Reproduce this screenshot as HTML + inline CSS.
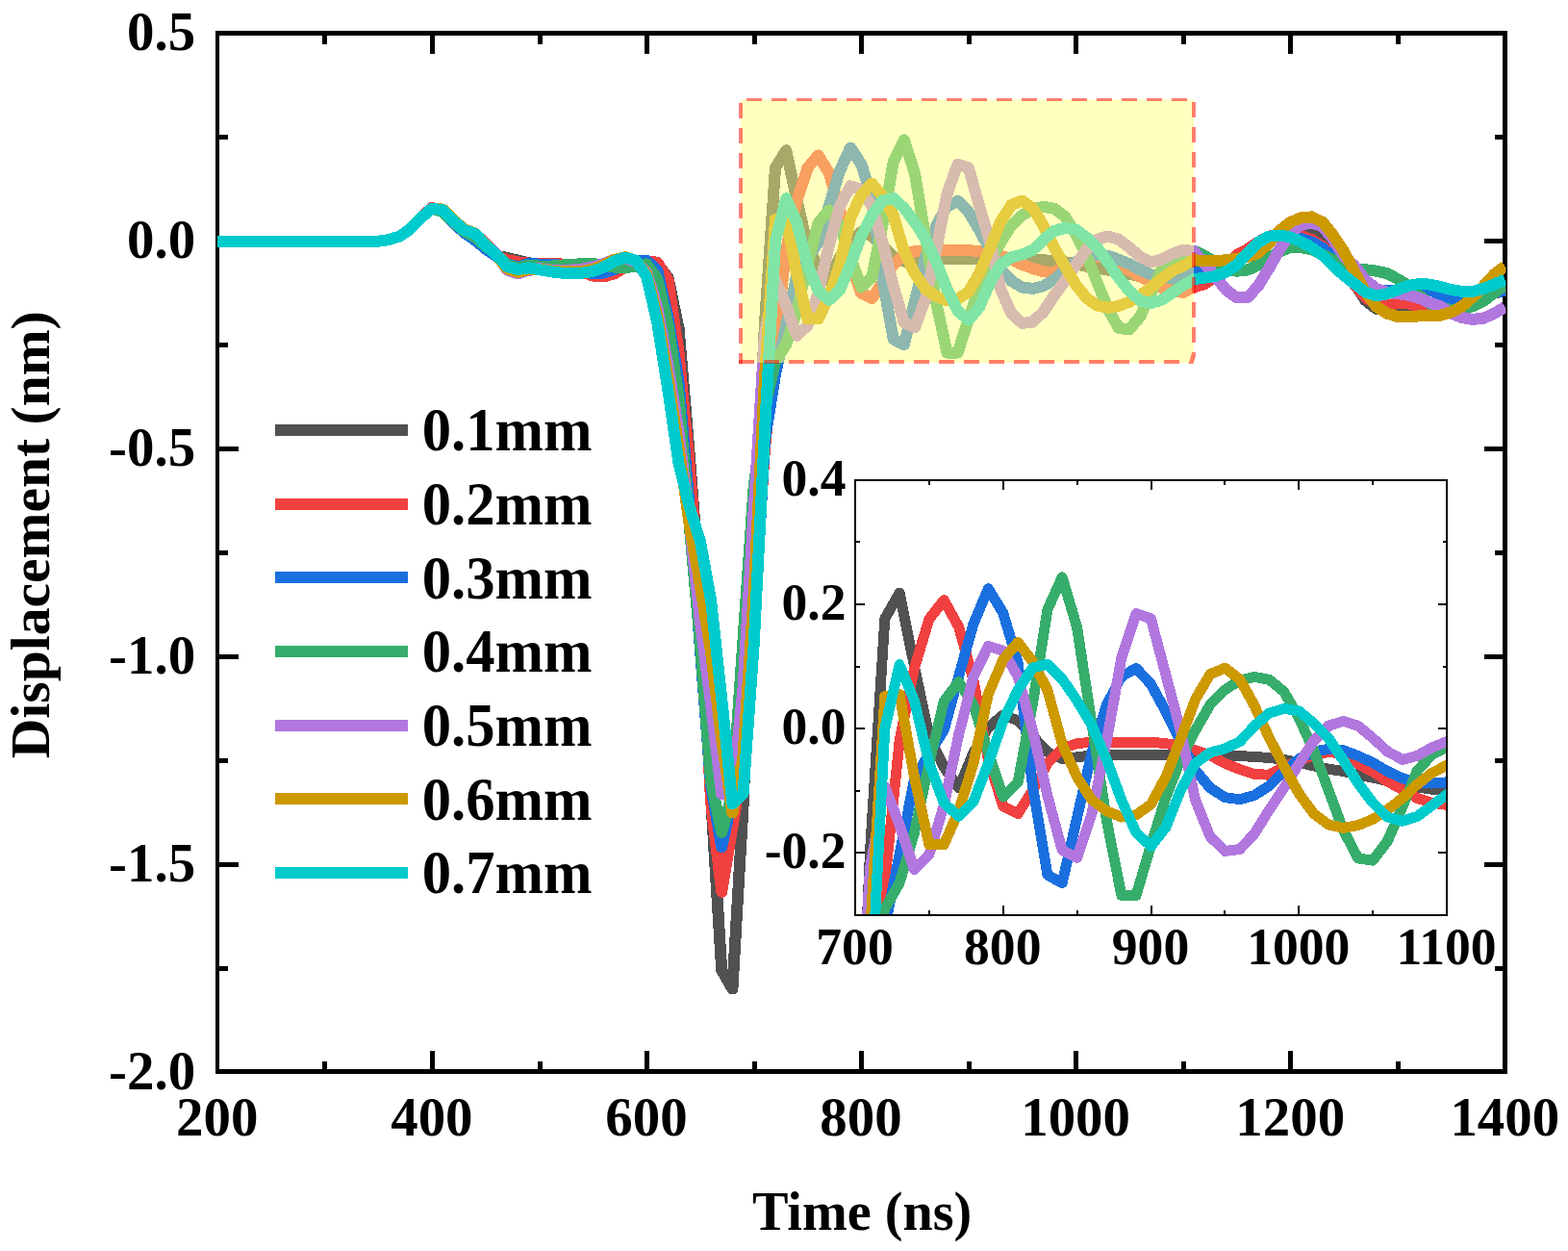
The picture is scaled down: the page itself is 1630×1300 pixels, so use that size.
<!DOCTYPE html>
<html lang="en"><head><meta charset="utf-8"><title>Displacement vs Time</title>
<style>html,body{margin:0;padding:0;background:#fff}body{width:1630px;height:1300px;overflow:hidden}svg{display:block}text{font-family:"Liberation Serif", "DejaVu Serif", serif;font-weight:bold;fill:#000}</style></head><body>
<svg width="1630" height="1300" viewBox="0 0 1630 1300">
<rect width="1630" height="1300" fill="#fff"/>
<defs><clipPath id="ci"><rect x="889" y="499.5" width="614.2" height="450.5"/></clipPath><clipPath id="cm"><rect x="225" y="34" width="1340.4" height="1080"/></clipPath></defs>
<g fill="#000" shape-rendering="crispEdges">
<rect x="224" y="32" width="4" height="1084"/>
<rect x="1562" y="32" width="5" height="1084"/>
<rect x="224" y="32" width="1343" height="5"/>
<rect x="224" y="1111" width="1343" height="5"/>
<rect x="335" y="37" width="5" height="9"/>
<rect x="335" y="1103" width="5" height="8"/>
<rect x="447" y="37" width="5" height="19"/>
<rect x="447" y="1092" width="5" height="19"/>
<rect x="559" y="37" width="5" height="9"/>
<rect x="559" y="1103" width="5" height="8"/>
<rect x="670" y="37" width="5" height="19"/>
<rect x="670" y="1092" width="5" height="19"/>
<rect x="782" y="37" width="5" height="9"/>
<rect x="782" y="1103" width="5" height="8"/>
<rect x="893" y="37" width="5" height="19"/>
<rect x="893" y="1092" width="5" height="19"/>
<rect x="1005" y="37" width="5" height="9"/>
<rect x="1005" y="1103" width="5" height="8"/>
<rect x="1116" y="37" width="5" height="19"/>
<rect x="1116" y="1092" width="5" height="19"/>
<rect x="1228" y="37" width="5" height="9"/>
<rect x="1228" y="1103" width="5" height="8"/>
<rect x="1339" y="37" width="5" height="19"/>
<rect x="1339" y="1092" width="5" height="19"/>
<rect x="1451" y="37" width="5" height="9"/>
<rect x="1451" y="1103" width="5" height="8"/>
<rect x="228" y="140" width="9" height="5"/>
<rect x="1554" y="140" width="8" height="5"/>
<rect x="228" y="248" width="20" height="5"/>
<rect x="1543" y="248" width="19" height="5"/>
<rect x="228" y="356" width="9" height="5"/>
<rect x="1554" y="356" width="8" height="5"/>
<rect x="228" y="464" width="20" height="5"/>
<rect x="1543" y="464" width="19" height="5"/>
<rect x="228" y="572" width="9" height="5"/>
<rect x="1554" y="572" width="8" height="5"/>
<rect x="228" y="680" width="20" height="5"/>
<rect x="1543" y="680" width="19" height="5"/>
<rect x="228" y="788" width="9" height="5"/>
<rect x="1554" y="788" width="8" height="5"/>
<rect x="228" y="896" width="20" height="5"/>
<rect x="1543" y="896" width="19" height="5"/>
<rect x="228" y="1004" width="9" height="5"/>
<rect x="1554" y="1004" width="8" height="5"/>
</g>
<g fill="none" stroke-width="12" stroke-linejoin="round" stroke-linecap="butt" clip-path="url(#cm)" shape-rendering="crispEdges">
<polyline stroke="#515151" points="226.0,250.7 237.2,250.7 248.3,250.7 259.5,250.7 270.6,250.7 281.8,250.7 292.9,250.7 304.1,250.7 315.2,250.7 326.4,250.7 337.5,250.7 348.7,250.7 359.8,250.7 371.0,250.7 382.2,250.7 393.3,250.7 404.5,249.1 415.6,245.5 426.8,237.7 437.9,226.1 449.1,215.7 460.2,220.0 471.4,231.7 482.5,241.6 493.7,249.4 504.8,258.5 516.0,265.4 527.2,268.0 538.3,270.6 549.5,273.2 560.6,275.7 571.8,278.3 582.9,280.1 594.1,280.9 605.2,281.8 616.4,281.8 627.5,280.1 638.7,276.6 649.9,273.2 661.0,271.0 672.2,272.3 683.3,273.6 694.5,288.5 705.6,341.4 716.8,473.1 727.9,617.7 739.1,829.3 750.2,1008.1 761.4,1027.5 772.5,837.9 783.7,574.5 794.9,337.1 806.0,174.3 817.2,156.3 828.3,207.5 839.5,255.9 850.6,277.5 861.8,292.0 872.9,267.4 884.1,249.8 895.2,241.2 906.4,245.1 917.5,255.9 928.7,267.1 939.9,271.6 951.0,270.6 962.2,269.3 973.3,268.8 984.5,268.8 995.6,268.8 1006.8,268.8 1017.9,268.8 1029.1,268.8 1040.2,268.8 1051.4,269.1 1062.5,269.3 1073.7,269.7 1084.9,270.3 1096.0,271.0 1107.2,272.3 1118.3,274.4 1129.5,276.6 1140.6,278.8 1151.8,280.5 1162.9,282.9 1174.1,284.8 1185.2,287.2 1196.4,289.6 1207.6,291.5 1218.7,292.9 1229.9,293.9 1241.0,293.0 1252.2,290.4 1263.3,285.2 1274.5,277.5 1285.6,268.0 1296.8,260.2 1307.9,254.2 1319.1,249.0 1330.2,245.5 1341.4,245.5 1352.6,243.4 1363.7,242.5 1374.9,244.7 1386.0,257.2 1397.2,276.6 1408.3,295.0 1419.5,312.2 1430.6,320.8 1441.8,319.8 1452.9,317.4 1464.1,317.2 1475.2,316.3 1486.4,315.5 1497.6,314.6 1508.7,313.7 1519.9,312.9 1531.0,311.2 1542.2,309.0 1553.3,304.7 1564.5,301.7"/>
<polyline stroke="#F14040" points="226.0,250.7 237.2,250.7 248.3,250.7 259.5,250.7 270.6,250.7 281.8,250.7 292.9,250.7 304.1,250.7 315.2,250.7 326.4,250.7 337.5,250.7 348.7,250.7 359.8,250.7 371.0,250.7 382.2,250.7 393.3,250.7 404.5,249.1 415.6,245.5 426.8,237.7 437.9,226.1 449.1,215.7 460.2,220.0 471.4,231.7 482.5,241.6 493.7,249.4 504.8,258.5 516.0,266.2 527.2,270.1 538.3,272.3 549.5,273.6 560.6,274.0 571.8,274.0 582.9,274.4 594.1,277.5 605.2,282.7 616.4,286.5 627.5,287.4 638.7,284.4 649.9,277.5 661.0,271.4 672.2,271.9 683.3,272.6 694.5,290.9 705.6,367.3 716.8,483.9 727.9,622.0 739.1,833.6 750.2,926.7 761.4,859.5 772.5,790.5 783.7,639.3 794.9,466.6 806.0,357.1 817.2,259.3 828.3,208.8 839.5,174.5 850.6,161.4 861.8,179.9 872.9,217.0 884.1,272.3 895.2,304.7 906.4,309.9 917.5,293.9 928.7,274.9 939.9,264.5 951.0,261.1 962.2,260.2 973.3,260.2 984.5,260.2 995.6,260.2 1006.8,260.2 1017.9,261.1 1029.1,262.8 1040.2,265.8 1051.4,269.3 1062.5,274.9 1073.7,279.0 1084.9,282.4 1096.0,282.9 1107.2,277.0 1118.3,273.4 1129.5,268.8 1140.6,267.1 1151.8,268.0 1162.9,275.3 1174.1,280.7 1185.2,287.6 1196.4,293.0 1207.6,299.1 1218.7,302.3 1229.9,303.8 1241.0,298.6 1252.2,295.0 1263.3,287.4 1274.5,276.6 1285.6,265.2 1296.8,259.0 1307.9,251.6 1319.1,245.5 1330.2,243.8 1341.4,244.7 1352.6,245.1 1363.7,249.0 1374.9,255.9 1386.0,268.0 1397.2,283.1 1408.3,296.0 1419.5,309.0 1430.6,316.3 1441.8,317.6 1452.9,315.0 1464.1,315.5 1475.2,318.5 1486.4,319.8 1497.6,318.9 1508.7,317.6 1519.9,316.3 1531.0,314.6 1542.2,309.0 1553.3,304.7 1564.5,301.2"/>
<polyline stroke="#1A6FDF" points="226.0,250.7 237.2,250.7 248.3,250.7 259.5,250.7 270.6,250.7 281.8,250.7 292.9,250.7 304.1,250.7 315.2,250.7 326.4,250.7 337.5,250.7 348.7,250.7 359.8,250.7 371.0,250.7 382.2,250.7 393.3,250.7 404.5,249.1 415.6,245.5 426.8,237.7 437.9,226.1 449.1,216.6 460.2,220.0 471.4,231.7 482.5,241.6 493.7,249.4 504.8,258.5 516.0,266.2 527.2,274.3 538.3,277.5 549.5,274.0 560.6,274.6 571.8,274.6 582.9,275.7 594.1,278.3 605.2,281.8 616.4,284.4 627.5,283.5 638.7,280.1 649.9,274.9 661.0,271.0 672.2,271.0 683.3,280.9 694.5,330.4 705.6,397.5 716.8,528.3 727.9,673.9 739.1,816.4 750.2,880.0 761.4,829.3 772.5,807.7 783.7,660.9 794.9,458.0 806.0,388.9 817.2,338.4 828.3,286.1 839.5,268.0 850.6,252.0 861.8,214.4 872.9,177.7 884.1,153.5 895.2,170.4 906.4,204.9 917.5,290.9 928.7,352.4 939.9,358.1 951.0,312.7 962.2,267.4 973.3,234.3 984.5,214.4 995.6,208.8 1006.8,220.0 1017.9,238.8 1029.1,259.3 1040.2,279.6 1051.4,292.0 1062.5,298.6 1073.7,299.9 1084.9,297.1 1096.0,290.4 1107.2,280.5 1118.3,271.9 1129.5,266.7 1140.6,264.9 1151.8,265.8 1162.9,269.7 1174.1,274.4 1185.2,280.5 1196.4,285.2 1207.6,288.1 1218.7,288.8 1229.9,288.1 1241.0,281.4 1252.2,280.1 1263.3,283.1 1274.5,281.8 1285.6,274.9 1296.8,263.7 1307.9,253.3 1319.1,248.1 1330.2,246.4 1341.4,245.5 1352.6,248.1 1363.7,251.6 1374.9,257.6 1386.0,268.0 1397.2,280.9 1408.3,291.7 1419.5,298.2 1430.6,301.5 1441.8,301.7 1452.9,302.5 1464.1,302.5 1475.2,301.2 1486.4,301.1 1497.6,306.8 1508.7,311.6 1519.9,311.2 1531.0,309.0 1542.2,306.8 1553.3,304.2 1564.5,301.7"/>
<polyline stroke="#37AD6B" points="226.0,250.7 237.2,250.7 248.3,250.7 259.5,250.7 270.6,250.7 281.8,250.7 292.9,250.7 304.1,250.7 315.2,250.7 326.4,250.7 337.5,250.7 348.7,250.7 359.8,250.7 371.0,250.7 382.2,250.7 393.3,250.7 404.5,249.1 415.6,245.5 426.8,237.7 437.9,226.1 449.1,216.6 460.2,220.0 471.4,230.8 482.5,240.3 493.7,246.4 504.8,255.9 516.0,263.9 527.2,275.2 538.3,278.3 549.5,275.7 560.6,276.6 571.8,276.6 582.9,275.7 594.1,274.9 605.2,274.2 616.4,274.0 627.5,275.7 638.7,277.5 649.9,278.3 661.0,276.6 672.2,274.4 683.3,289.6 694.5,337.8 705.6,412.6 716.8,546.9 727.9,669.5 739.1,812.0 750.2,865.0 761.4,825.0 772.5,665.2 783.7,505.5 794.9,423.4 806.0,375.9 817.2,358.1 828.3,323.2 839.5,274.9 850.6,231.7 861.8,218.3 872.9,234.3 884.1,267.4 895.2,298.2 906.4,288.3 917.5,233.4 928.7,168.0 939.9,145.4 951.0,180.3 962.2,247.3 973.3,314.6 984.5,366.6 995.6,366.6 1006.8,331.7 1017.9,298.6 1029.1,272.3 1040.2,252.0 1051.4,234.1 1062.5,223.8 1073.7,217.1 1084.9,214.9 1096.0,216.7 1107.2,225.2 1118.3,243.1 1129.5,265.8 1140.6,293.4 1151.8,321.3 1162.9,340.9 1174.1,342.5 1185.2,328.9 1196.4,305.1 1207.6,280.1 1218.7,268.8 1229.9,263.7 1241.0,260.5 1252.2,265.8 1263.3,272.3 1274.5,278.8 1285.6,281.7 1296.8,280.5 1307.9,275.5 1319.1,268.0 1330.2,261.5 1341.4,257.0 1352.6,257.0 1363.7,259.3 1374.9,264.5 1386.0,270.1 1397.2,275.7 1408.3,279.6 1419.5,280.2 1430.6,281.7 1441.8,284.1 1452.9,290.0 1464.1,296.9 1475.2,306.8 1486.4,315.5 1497.6,319.8 1508.7,321.9 1519.9,320.8 1531.0,318.4 1542.2,312.9 1553.3,304.2 1564.5,296.2"/>
<polyline stroke="#B177DE" points="226.0,250.7 237.2,250.7 248.3,250.7 259.5,250.7 270.6,250.7 281.8,250.7 292.9,250.7 304.1,250.7 315.2,250.7 326.4,250.7 337.5,250.7 348.7,250.7 359.8,250.7 371.0,250.7 382.2,250.7 393.3,250.7 404.5,249.1 415.6,245.5 426.8,237.7 437.9,226.1 449.1,216.6 460.2,218.3 471.4,229.5 482.5,239.0 493.7,242.9 504.8,252.4 516.0,263.7 527.2,280.4 538.3,284.4 549.5,280.9 560.6,279.2 571.8,280.5 582.9,280.9 594.1,280.5 605.2,279.6 616.4,277.5 627.5,274.0 638.7,269.7 649.9,268.0 661.0,272.3 672.2,283.1 683.3,319.8 694.5,380.2 705.6,449.3 716.8,542.2 727.9,644.9 739.1,732.4 750.2,825.0 761.4,827.2 772.5,715.1 783.7,529.2 794.9,347.9 806.0,290.9 817.2,317.6 828.3,348.7 839.5,338.3 850.6,304.2 861.8,255.0 872.9,214.4 884.1,193.4 895.2,196.6 906.4,214.4 917.5,252.0 928.7,297.3 939.9,335.3 951.0,340.5 962.2,309.9 973.3,259.3 984.5,201.6 995.6,170.7 1006.8,174.3 1017.9,213.3 1029.1,252.0 1040.2,300.4 1051.4,325.8 1062.5,335.9 1073.7,334.7 1084.9,323.7 1096.0,307.1 1107.2,291.7 1118.3,275.3 1129.5,259.3 1140.6,248.8 1151.8,245.5 1162.9,248.8 1174.1,257.3 1185.2,266.7 1196.4,272.3 1207.6,269.6 1218.7,264.0 1229.9,259.7 1241.0,261.1 1252.2,274.0 1263.3,287.6 1274.5,301.1 1285.6,309.4 1296.8,309.1 1307.9,297.3 1319.1,278.9 1330.2,259.2 1341.4,242.9 1352.6,233.4 1363.7,231.7 1374.9,235.2 1386.0,249.0 1397.2,266.2 1408.3,276.6 1419.5,291.3 1430.6,299.9 1441.8,303.6 1452.9,305.1 1464.1,306.8 1475.2,309.7 1486.4,314.6 1497.6,318.4 1508.7,325.7 1519.9,330.1 1531.0,331.9 1542.2,330.7 1553.3,325.7 1564.5,318.9"/>
<polyline stroke="#CC9900" points="226.0,250.7 237.2,250.7 248.3,250.7 259.5,250.7 270.6,250.7 281.8,250.7 292.9,250.7 304.1,250.7 315.2,250.7 326.4,250.7 337.5,250.7 348.7,250.7 359.8,250.7 371.0,250.7 382.2,250.7 393.3,250.7 404.5,249.1 415.6,245.5 426.8,237.7 437.9,226.1 449.1,216.6 460.2,217.5 471.4,228.7 482.5,238.2 493.7,242.5 504.8,253.7 516.0,264.8 527.2,279.1 538.3,283.1 549.5,280.1 560.6,279.6 571.8,281.4 582.9,282.2 594.1,282.2 605.2,281.8 616.4,279.6 627.5,275.7 638.7,270.1 649.9,267.1 661.0,271.0 672.2,285.2 683.3,328.4 694.5,393.2 705.6,465.7 716.8,545.6 727.9,608.2 739.1,678.2 750.2,768.0 761.4,844.6 772.5,786.1 783.7,617.7 794.9,393.2 806.0,228.2 817.2,227.0 828.3,284.4 839.5,331.4 850.6,331.4 861.8,308.0 872.9,274.9 884.1,226.5 895.2,202.8 906.4,190.7 917.5,204.1 928.7,223.9 939.9,261.5 951.0,284.4 962.2,300.4 973.3,308.0 984.5,312.3 995.6,310.7 1006.8,303.4 1017.9,284.4 1029.1,258.0 1040.2,230.4 1051.4,212.9 1062.5,208.6 1073.7,216.4 1084.9,234.9 1096.0,257.3 1107.2,277.0 1118.3,295.7 1129.5,309.9 1140.6,317.5 1151.8,319.8 1162.9,317.9 1174.1,313.7 1185.2,307.1 1196.4,299.1 1207.6,289.6 1218.7,281.6 1229.9,276.2 1241.0,270.3 1252.2,271.0 1263.3,271.0 1274.5,270.3 1285.6,268.8 1296.8,267.1 1307.9,262.8 1319.1,252.9 1330.2,239.6 1341.4,230.9 1352.6,226.3 1363.7,225.4 1374.9,230.9 1386.0,244.5 1397.2,261.7 1408.3,282.7 1419.5,303.6 1430.6,318.4 1441.8,325.7 1452.9,329.1 1464.1,329.1 1475.2,328.4 1486.4,328.2 1497.6,327.6 1508.7,324.5 1519.9,318.4 1531.0,308.6 1542.2,297.3 1553.3,285.1 1564.5,276.6"/>
<polyline stroke="#00CBCC" points="226.0,250.7 237.2,250.7 248.3,250.7 259.5,250.7 270.6,250.7 281.8,250.7 292.9,250.7 304.1,250.7 315.2,250.7 326.4,250.7 337.5,250.7 348.7,250.7 359.8,250.7 371.0,250.7 382.2,250.7 393.3,250.7 404.5,249.1 415.6,245.5 426.8,237.7 437.9,226.1 449.1,216.6 460.2,218.3 471.4,229.3 482.5,239.0 493.7,242.9 504.8,254.6 516.0,264.8 527.2,276.9 538.3,280.1 549.5,278.3 560.6,280.1 571.8,282.2 582.9,283.5 594.1,283.9 605.2,283.7 616.4,281.8 627.5,277.7 638.7,271.4 649.9,267.5 661.0,270.6 672.2,287.4 683.3,335.3 694.5,406.1 705.6,481.7 716.8,527.1 727.9,562.5 739.1,624.2 750.2,725.7 761.4,835.4 772.5,825.0 783.7,669.5 794.9,449.3 806.0,250.7 817.2,206.3 828.3,231.3 839.5,274.9 850.6,302.3 861.8,311.8 872.9,301.4 884.1,274.9 895.2,245.5 906.4,223.9 917.5,208.4 928.7,206.0 939.9,216.2 951.0,231.3 962.2,248.3 973.3,272.3 984.5,300.4 995.6,323.2 1006.8,332.6 1017.9,319.4 1029.1,293.9 1040.2,274.9 1051.4,267.4 1062.5,264.5 1073.7,259.8 1084.9,248.8 1096.0,239.9 1107.2,236.9 1118.3,238.4 1129.5,246.9 1140.6,257.3 1151.8,272.7 1162.9,288.7 1174.1,302.3 1185.2,312.3 1196.4,315.0 1207.6,311.8 1218.7,304.2 1229.9,296.7 1241.0,290.0 1252.2,288.7 1263.3,287.0 1274.5,282.7 1285.6,275.3 1296.8,262.9 1307.9,251.9 1319.1,245.7 1330.2,244.5 1341.4,246.4 1352.6,251.3 1363.7,257.4 1374.9,265.4 1386.0,276.5 1397.2,286.4 1408.3,295.0 1419.5,303.6 1430.6,307.3 1441.8,305.5 1452.9,301.1 1464.1,296.9 1475.2,295.0 1486.4,295.6 1497.6,298.1 1508.7,301.1 1519.9,302.9 1531.0,302.9 1542.2,299.9 1553.3,295.6 1564.5,290.6"/>
</g>
<rect x="770" y="103.5" width="471" height="273.5" fill="#FFFF80" fill-opacity="0.5"/>
<g fill="none" stroke="#FF0000" stroke-opacity="0.5" stroke-dasharray="16 10" shape-rendering="crispEdges">
<path d="M768 376.2 H1235.5" stroke-width="3.6"/>
<path d="M1241 355.8 V102" stroke-width="4"/>
<path d="M776.4 103.5 H1239" stroke-width="3.2"/>
<path d="M770 106.6 V378" stroke-width="4"/>
</g>
<path d="M1235.6 378 L1239.2 366 L1243 366 L1243 370 L1240.4 378 Z" fill="#FF0000" fill-opacity="0.5"/>
<text transform="translate(203.20,52.40) scale(0.9830,1)" font-size="57.9" text-anchor="end">0.5</text>
<text transform="translate(203.20,268.25) scale(0.9830,1)" font-size="57.9" text-anchor="end">0.0</text>
<text transform="translate(203.20,484.10) scale(0.9830,1)" font-size="57.9" text-anchor="end">-0.5</text>
<text transform="translate(203.20,699.95) scale(0.9830,1)" font-size="57.9" text-anchor="end">-1.0</text>
<text transform="translate(203.20,915.80) scale(0.9830,1)" font-size="57.9" text-anchor="end">-1.5</text>
<text transform="translate(203.20,1131.65) scale(0.9830,1)" font-size="57.9" text-anchor="end">-2.0</text>
<text transform="translate(225.80,1180.40) scale(0.9830,1)" font-size="57.9" text-anchor="middle">200</text>
<text transform="translate(448.88,1180.40) scale(0.9830,1)" font-size="57.9" text-anchor="middle">400</text>
<text transform="translate(671.96,1180.40) scale(0.9830,1)" font-size="57.9" text-anchor="middle">600</text>
<text transform="translate(895.04,1180.40) scale(0.9830,1)" font-size="57.9" text-anchor="middle">800</text>
<text transform="translate(1118.12,1180.40) scale(0.9830,1)" font-size="57.9" text-anchor="middle">1000</text>
<text transform="translate(1341.20,1180.40) scale(0.9830,1)" font-size="57.9" text-anchor="middle">1200</text>
<text transform="translate(1564.28,1180.40) scale(0.9830,1)" font-size="57.9" text-anchor="middle">1400</text>
<text transform="translate(781.90,1278.10) scale(0.9860,1)" font-size="57" text-anchor="start">Time (ns)</text>
<text transform="translate(50.90,788.20) rotate(-90) scale(1.0275,1)" font-size="56" text-anchor="start">Displacement (nm)</text>
<rect x="286" y="441" width="138" height="12" fill="#515151" shape-rendering="crispEdges"/>
<text transform="translate(438.70,468.40) scale(0.9650,1)" font-size="62.8" text-anchor="start">0.1mm</text>
<rect x="286" y="518" width="138" height="12" fill="#F14040" shape-rendering="crispEdges"/>
<text transform="translate(438.70,545.08) scale(0.9650,1)" font-size="62.8" text-anchor="start">0.2mm</text>
<rect x="286" y="594" width="138" height="12" fill="#1A6FDF" shape-rendering="crispEdges"/>
<text transform="translate(438.70,621.76) scale(0.9650,1)" font-size="62.8" text-anchor="start">0.3mm</text>
<rect x="286" y="671" width="138" height="12" fill="#37AD6B" shape-rendering="crispEdges"/>
<text transform="translate(438.70,698.44) scale(0.9650,1)" font-size="62.8" text-anchor="start">0.4mm</text>
<rect x="286" y="748" width="138" height="12" fill="#B177DE" shape-rendering="crispEdges"/>
<text transform="translate(438.70,775.12) scale(0.9650,1)" font-size="62.8" text-anchor="start">0.5mm</text>
<rect x="286" y="824" width="138" height="12" fill="#CC9900" shape-rendering="crispEdges"/>
<text transform="translate(438.70,851.80) scale(0.9650,1)" font-size="62.8" text-anchor="start">0.6mm</text>
<rect x="286" y="901" width="138" height="12" fill="#00CBCC" shape-rendering="crispEdges"/>
<text transform="translate(438.70,928.48) scale(0.9650,1)" font-size="62.8" text-anchor="start">0.7mm</text>
<rect x="889" y="499" width="615" height="452" fill="#fff"/>
<g fill="#000" shape-rendering="crispEdges">
<rect x="888" y="498" width="2" height="454"/>
<rect x="1503" y="498" width="2" height="454"/>
<rect x="888" y="498" width="617" height="2"/>
<rect x="888" y="950" width="617" height="2"/>
<rect x="965" y="500" width="2" height="4"/>
<rect x="965" y="946" width="2" height="4"/>
<rect x="1042" y="500" width="2" height="9"/>
<rect x="1042" y="941" width="2" height="9"/>
<rect x="1119" y="500" width="2" height="4"/>
<rect x="1119" y="946" width="2" height="4"/>
<rect x="1196" y="500" width="2" height="9"/>
<rect x="1196" y="941" width="2" height="9"/>
<rect x="1272" y="500" width="2" height="4"/>
<rect x="1272" y="946" width="2" height="4"/>
<rect x="1349" y="500" width="2" height="9"/>
<rect x="1349" y="941" width="2" height="9"/>
<rect x="1426" y="500" width="2" height="4"/>
<rect x="1426" y="946" width="2" height="4"/>
<rect x="890" y="562" width="4" height="2"/>
<rect x="1500" y="562" width="3" height="2"/>
<rect x="890" y="627" width="9" height="2"/>
<rect x="1495" y="627" width="8" height="2"/>
<rect x="890" y="692" width="4" height="2"/>
<rect x="1500" y="692" width="3" height="2"/>
<rect x="890" y="756" width="9" height="2"/>
<rect x="1495" y="756" width="8" height="2"/>
<rect x="890" y="821" width="4" height="2"/>
<rect x="1500" y="821" width="3" height="2"/>
<rect x="890" y="885" width="9" height="2"/>
<rect x="1495" y="885" width="8" height="2"/>
</g>
<g fill="none" stroke-width="10.9" stroke-linejoin="round" clip-path="url(#ci)" shape-rendering="crispEdges">
<polyline stroke="#515151" points="858.2,1918.2 873.6,1634.8 889.0,1241.2 904.4,886.2 919.8,642.9 935.1,616.0 950.5,692.6 965.9,764.8 981.2,797.1 996.6,818.8 1012.0,782.1 1027.4,755.8 1042.8,742.9 1058.1,748.7 1073.5,764.8 1088.9,781.6 1104.2,788.4 1119.6,786.8 1135.0,784.9 1150.4,784.2 1165.8,784.2 1181.1,784.2 1196.5,784.2 1211.9,784.2 1227.2,784.2 1242.6,784.2 1258.0,784.5 1273.4,784.9 1288.8,785.5 1304.1,786.5 1319.5,787.4 1334.9,789.4 1350.2,792.6 1365.6,795.8 1381.0,799.1 1396.4,801.6 1411.8,805.2 1427.1,808.1 1442.5,811.7 1457.9,815.2 1473.2,818.1 1488.6,820.2 1504.0,821.6 1519.4,820.3 1534.8,816.5"/>
<polyline stroke="#F14040" points="858.2,1667.1 873.6,1563.8 889.0,1338.0 904.4,1079.8 919.8,916.2 935.1,770.0 950.5,694.5 965.9,643.2 981.2,623.7 996.6,651.3 1012.0,706.8 1027.4,789.4 1042.8,837.8 1058.1,845.5 1073.5,821.6 1088.9,793.2 1104.2,777.8 1119.6,772.6 1135.0,771.3 1150.4,771.3 1165.8,771.3 1181.1,771.3 1196.5,771.3 1211.9,772.6 1227.2,775.2 1242.6,779.7 1258.0,784.9 1273.4,793.2 1288.8,799.4 1304.1,804.5 1319.5,805.2 1334.9,796.5 1350.2,791.0 1365.6,784.2 1381.0,781.6 1396.4,782.9 1411.8,793.9 1427.1,802.0 1442.5,812.3 1457.9,820.3 1473.2,829.4 1488.6,834.3 1504.0,836.4 1519.4,828.7 1534.8,823.3"/>
<polyline stroke="#1A6FDF" points="858.2,1621.9 873.6,1589.7 889.0,1370.2 904.4,1066.9 919.8,963.6 935.1,888.1 950.5,810.0 965.9,782.9 981.2,759.0 996.6,702.9 1012.0,648.0 1027.4,611.8 1042.8,637.1 1058.1,688.7 1073.5,817.1 1088.9,909.2 1104.2,917.6 1119.6,849.8 1135.0,782.1 1150.4,732.6 1165.8,702.9 1181.1,694.5 1196.5,711.1 1211.9,739.4 1227.2,770.0 1242.6,800.3 1258.0,818.8 1273.4,828.7 1288.8,830.7 1304.1,826.5 1319.5,816.5 1334.9,801.6 1350.2,788.7 1365.6,781.0 1381.0,778.4 1396.4,779.7 1411.8,785.5 1427.1,792.6 1442.5,801.6 1457.9,808.7 1473.2,813.0 1488.6,814.1 1504.0,813.0 1519.4,803.1 1534.8,801.0"/>
<polyline stroke="#37AD6B" points="858.2,1615.5 873.6,1376.7 889.0,1137.9 904.4,1015.3 919.8,944.3 935.1,917.6 950.5,865.4 965.9,793.2 981.2,728.7 996.6,708.7 1012.0,732.6 1027.4,782.1 1042.8,828.1 1058.1,813.2 1073.5,731.3 1088.9,633.5 1104.2,599.8 1119.6,651.9 1135.0,752.1 1150.4,852.6 1165.8,930.3 1181.1,930.3 1196.5,878.1 1211.9,828.7 1227.2,789.4 1242.6,759.0 1258.0,732.3 1273.4,716.8 1288.8,707.0 1304.1,703.5 1319.5,706.3 1334.9,719.0 1350.2,745.8 1365.6,779.7 1381.0,821.0 1396.4,862.6 1411.8,892.0 1427.1,894.2 1442.5,873.9 1457.9,838.4 1473.2,801.0 1488.6,784.2 1504.0,776.5 1519.4,771.7 1534.8,779.7"/>
<polyline stroke="#B177DE" points="858.2,1618.7 873.6,1451.2 889.0,1173.4 904.4,902.3 919.8,817.1 935.1,857.1 950.5,903.6 965.9,888.0 981.2,837.1 996.6,763.6 1012.0,702.9 1027.4,671.4 1042.8,676.2 1058.1,702.9 1073.5,759.0 1088.9,826.8 1104.2,883.6 1119.6,891.3 1135.0,845.5 1150.4,770.0 1165.8,683.7 1181.1,637.6 1196.5,642.9 1211.9,701.3 1227.2,759.0 1242.6,831.3 1258.0,869.4 1273.4,884.4 1288.8,882.6 1304.1,866.2 1319.5,841.4 1334.9,818.4 1350.2,793.9 1365.6,770.0 1381.0,754.3 1396.4,749.4 1411.8,754.3 1427.1,767.0 1442.5,781.0 1457.9,789.4 1473.2,785.4 1488.6,776.9 1504.0,770.5 1519.4,772.6 1534.8,792.0"/>
<polyline stroke="#CC9900" points="858.2,1644.8 873.6,1557.4 889.0,1305.7 904.4,970.1 919.8,723.5 935.1,721.6 950.5,807.4 965.9,877.8 981.2,877.8 996.6,842.8 1012.0,793.2 1027.4,721.0 1042.8,685.5 1058.1,667.4 1073.5,687.4 1088.9,717.1 1104.2,773.2 1119.6,807.4 1135.0,831.3 1150.4,842.8 1165.8,849.1 1181.1,846.8 1196.5,835.8 1211.9,807.4 1227.2,768.1 1242.6,726.8 1258.0,700.6 1273.4,694.2 1288.8,705.8 1304.1,733.4 1319.5,767.0 1334.9,796.5 1350.2,824.4 1365.6,845.5 1381.0,856.9 1396.4,860.4 1411.8,857.6 1427.1,851.3 1442.5,841.4 1457.9,829.4 1473.2,815.2 1488.6,803.2 1504.0,795.2 1519.4,786.5 1534.8,787.4"/>
<polyline stroke="#00CBCC" points="858.2,1631.0 873.6,1615.5 889.0,1383.1 904.4,1054.0 919.8,757.1 935.1,690.7 950.5,728.1 965.9,793.2 981.2,834.3 996.6,848.4 1012.0,832.9 1027.4,793.2 1042.8,749.4 1058.1,717.1 1073.5,693.9 1088.9,690.3 1104.2,705.5 1119.6,728.1 1135.0,753.5 1150.4,789.4 1165.8,831.3 1181.1,865.4 1196.5,879.5 1211.9,859.7 1227.2,821.6 1242.6,793.2 1258.0,782.1 1273.4,777.8 1288.8,770.7 1304.1,754.3 1319.5,741.0 1334.9,736.4 1350.2,738.8 1365.6,751.5 1381.0,767.0 1396.4,790.0 1411.8,813.9 1427.1,834.3 1442.5,849.1 1457.9,853.3 1473.2,848.4 1488.6,837.1 1504.0,825.8 1519.4,815.9 1534.8,813.9"/>
</g>
<text transform="translate(879.50,514.54) scale(0.9750,1)" font-size="55" text-anchor="end">0.4</text>
<text transform="translate(879.50,643.62) scale(0.9750,1)" font-size="55" text-anchor="end">0.2</text>
<text transform="translate(879.50,772.70) scale(0.9750,1)" font-size="55" text-anchor="end">0.0</text>
<text transform="translate(879.50,901.78) scale(0.9750,1)" font-size="55" text-anchor="end">-0.2</text>
<text transform="translate(888.50,1001.90) scale(0.9750,1)" font-size="55" text-anchor="middle">700</text>
<text transform="translate(1042.25,1001.90) scale(0.9750,1)" font-size="55" text-anchor="middle">800</text>
<text transform="translate(1196.00,1001.90) scale(0.9750,1)" font-size="55" text-anchor="middle">900</text>
<text transform="translate(1349.75,1001.90) scale(0.9750,1)" font-size="55" text-anchor="middle">1000</text>
<text transform="translate(1503.50,1001.90) scale(0.9750,1)" font-size="55" text-anchor="middle">1100</text>
</svg></body></html>
